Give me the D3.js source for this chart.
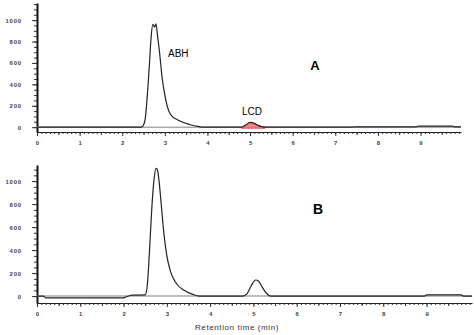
<!DOCTYPE html>
<html>
<head>
<meta charset="utf-8">
<script src="https://cdn.jsdelivr.net/npm/d3@7"></script>
<style>
  body { margin: 0; background: #fff; }
  svg { display: block; }
</style>
</head>
<body>
<div id="chart"></div>
<script>
// chromatogram A (standards)
const timeA   = [0, 2.45, 2.5, 2.54, 2.59, 2.64, 2.68, 2.72, 2.76, 2.79, 2.83, 2.87, 2.94, 2.99, 3.06, 3.15, 3.34, 3.58, 3.81, 3.9, 4.8, 4.9, 5.0, 5.1, 5.2, 5.35, 7.4, 7.45, 8.9, 8.95, 9.75, 9.8, 9.95];
const signalA = [0, 0, 20, 80, 300, 600, 850, 960, 935, 965, 850, 720, 450, 320, 190, 110, 60, 25, 5, 0, 0, 20, 45, 35, 15, 0, 0, 3, 3, 10, 10, 3, 3];
// chromatogram B (sample)
const timeB   = [0, 0.15, 0.2, 2.0, 2.05, 2.2, 2.5, 2.55, 2.6, 2.65, 2.7, 2.75, 2.78, 2.82, 2.87, 2.93, 3.0, 3.08, 3.2, 3.4, 3.6, 3.75, 4.75, 4.85, 4.95, 5.05, 5.12, 5.2, 5.3, 5.4, 8.95, 9.0, 9.8, 9.85, 10.05];
const signalB = [0, 0, -15, -15, -8, 8, 10, 100, 400, 750, 1000, 1110, 1100, 1000, 800, 550, 350, 220, 120, 50, 15, 0, 0, 20, 90, 140, 130, 80, 25, 0, 0, 10, 10, 0, 0];

const yTicks = [0, 200, 400, 600, 800, 1000];
const xTicks = [0, 1, 2, 3, 4, 5, 6, 7, 8, 9];
const lcdFillRange = [4.75, 5.36];

const svg = d3.select("#chart").append("svg")
    .attr("width", 474)
    .attr("height", 335);

function panel(opts) {
    const g = svg.append("g");
    const x = d3.scaleLinear().domain(opts.xDomain).range([37, opts.xEnd]);
    const y = d3.scaleLinear().domain(opts.yDomain).range([opts.bottom, opts.top]);

    // x axis: minor, mid, major ticks
    const minor = d3.range(0, opts.xDomain[1] + 0.001, 0.1);
    g.append("g").attr("transform", "translate(0," + opts.bottom + ")")
        .call(d3.axisBottom(x).tickValues(minor).tickSize(2).tickFormat(""))
        .call(a => a.select(".domain").remove());
    g.append("g").attr("transform", "translate(0," + opts.bottom + ")")
        .call(d3.axisBottom(x).tickValues(d3.range(0.5, opts.xDomain[1], 1)).tickSize(3).tickFormat(""))
        .call(a => a.select(".domain").remove());
    const xa = g.append("g").attr("transform", "translate(0," + opts.bottom + ")")
        .call(d3.axisBottom(x).tickValues(xTicks).tickSize(4).tickSizeOuter(0).tickPadding(5));
    xa.select(".domain").attr("stroke", "#222").attr("stroke-width", 1.2);
    xa.selectAll("text").style("font", "bold 6px Arial, 'Liberation Sans'").attr("fill", "#444");

    // y axis
    g.append("g").attr("transform", "translate(37,0)")
        .call(d3.axisLeft(y).tickValues(d3.range(0, opts.yDomain[1], 50)).tickSize(3).tickFormat(""))
        .call(a => a.select(".domain").remove());
    const ya = g.append("g").attr("transform", "translate(37,0)")
        .call(d3.axisLeft(y).tickValues(yTicks).tickFormat(d3.format("d"))
            .tickSize(5).tickSizeOuter(0).tickPadding(10));
    ya.select(".domain").attr("stroke", "#111").attr("stroke-width", 2);
    ya.selectAll("text").style("font", "bold 6px Arial, 'Liberation Sans'")
        .style("letter-spacing", "0.8px").attr("fill", "#444");
    g.selectAll(".tick line").attr("stroke", "#333");

    // gray integration baseline
    g.append("line")
        .attr("x1", x(0)).attr("x2", x(opts.xDomain[1]))
        .attr("y1", y(0)).attr("y2", y(0))
        .attr("stroke", "#aaa").attr("stroke-width", 1.5);

    if (opts.fill) {
        const pts = opts.time.map((t, i) => [t, opts.signal[i]])
            .filter(p => p[0] >= opts.fill[0] && p[0] <= opts.fill[1]);
        g.append("path").datum(pts)
            .attr("fill", "#f08080")
            .attr("stroke", "#e05050")
            .attr("stroke-width", 1)
            .attr("d", d3.area().x(d => x(d[0])).y0(y(0) + 1).y1(d => y(d[1])).curve(d3.curveMonotoneX));
    }

    const line = d3.line()
        .x((d, i) => x(opts.time[i]))
        .y(d => y(d))
        .curve(d3.curveMonotoneX);
    g.append("path").datum(opts.signal)
        .attr("fill", "none")
        .attr("stroke", "#222")
        .attr("stroke-width", 1.2)
        .attr("d", line);
    return g;
}

const gA = panel({
    time: timeA, signal: signalA,
    xDomain: [0, 9.95], xEnd: 461,
    yDomain: [-45, 1160], bottom: 132, top: 3,
    fill: lcdFillRange
});
gA.append("text").attr("x", 168).attr("y", 57)
    .style("font", "10px Arial, 'Liberation Sans'").text("ABH");
gA.append("text").attr("x", 242).attr("y", 115)
    .style("font", "10px Arial, 'Liberation Sans'").text("LCD");
gA.append("text").attr("x", 315).attr("y", 70).attr("text-anchor", "middle")
    .style("font", "bold 13px Arial, 'Liberation Sans'").text("A");

const gB = panel({
    time: timeB, signal: signalB,
    xDomain: [0, 10.05], xEnd: 472,
    yDomain: [-60, 1140], bottom: 303, top: 165
});
gB.append("text").attr("x", 318).attr("y", 214).attr("text-anchor", "middle")
    .style("font", "bold 14px Arial, 'Liberation Sans'").text("B");
gB.append("text").attr("x", 237).attr("y", 330).attr("text-anchor", "middle")
    .style("font", "8px Arial, 'Liberation Sans'").style("letter-spacing", "0.6px")
    .attr("fill", "#333")
    .text("Retention time (min)");
</script>
</body>
</html>
